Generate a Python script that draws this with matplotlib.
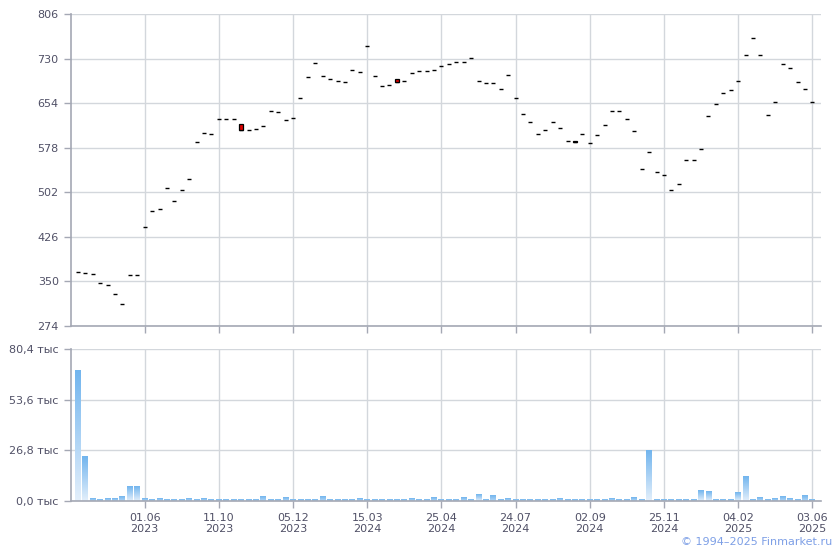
import numpy as np
import matplotlib.pyplot as plt
from matplotlib.colors import LinearSegmentedColormap

# цены закрытия (100 недель)
closes = [365.5, 363.8, 362.1, 346.8, 343.3, 328.0, 311.0, 360.4, 360.4, 442.2,
          469.5, 473.0, 508.7, 486.6, 505.4, 524.1, 587.2, 602.5, 600.8, 627.0,
          627.0, 627.0, 609.0, 607.7, 609.3, 614.5, 640.1, 638.4, 624.7, 628.1,
          662.2, 698.0, 721.9, 699.7, 694.6, 691.2, 689.5, 710.0, 706.5, 750.9,
          699.7, 682.7, 684.4, 689.3, 691.2, 704.8, 708.2, 708.2, 710.0, 716.8,
          720.2, 723.6, 723.6, 730.4, 691.2, 687.8, 687.8, 677.6, 701.4, 662.2,
          634.9, 621.3, 600.8, 607.7, 621.3, 611.1, 588.9, 587.5, 600.8, 585.5,
          599.1, 616.2, 640.1, 640.1, 626.4, 606.0, 541.1, 570.2, 536.0, 530.9,
          505.4, 515.6, 556.5, 556.5, 575.2, 631.5, 652.0, 670.7, 675.9, 691.2,
          735.5, 764.5, 735.5, 633.2, 655.4, 720.2, 713.4, 689.5, 677.6, 655.4]
# цены открытия там, где видно тело свечи
opens = {22: 618.0, 43: 695.5, 67: 588.7}

# объём, тыс.
volumes = [68.9, 23.5, 1.2, 0.9, 1.2, 1.2, 2.3, 7.6, 7.6, 1.2,
           0.9, 1.2, 0.9, 0.9, 0.9, 1.2, 0.9, 1.2, 0.9, 0.9,
           0.9, 0.9, 0.9, 0.9, 0.9, 2.3, 0.9, 0.9, 1.6, 0.9,
           0.9, 0.9, 0.9, 2.3, 0.9, 0.9, 0.9, 0.9, 1.2, 0.9,
           0.9, 0.9, 0.9, 0.9, 0.9, 1.2, 0.9, 0.9, 1.6, 0.9,
           0.9, 0.9, 1.6, 0.9, 3.3, 0.9, 2.8, 0.9, 1.2, 0.9,
           0.9, 0.9, 0.9, 0.9, 0.9, 1.2, 0.9, 0.9, 0.9, 0.9,
           0.9, 0.9, 1.2, 0.9, 0.9, 1.6, 0.9, 26.6, 0.9, 0.9,
           0.9, 0.9, 0.9, 0.9, 5.5, 4.9, 0.9, 0.9, 0.9, 4.4,
           12.9, 0.9, 1.6, 0.9, 1.2, 2.3, 1.2, 0.9, 2.8, 0.9]

tick_idx = [9, 19, 29, 39, 49, 59, 69, 79, 89, 99]
tick_labels = ['01.06\n2023', '11.10\n2023', '05.12\n2023', '15.03\n2024', '25.04\n2024',
               '24.07\n2024', '02.09\n2024', '25.11\n2024', '04.02\n2025', '03.06\n2025']
price_ticks = [274, 350, 426, 502, 578, 654, 730, 806]
vol_ticks = [0.0, 26.8, 53.6, 80.4]

grid_c = '#d3d7dc'
axis_c = '#a4a8b4'
text_c = '#505066'

fig = plt.figure(figsize=(8.4, 5.5), dpi=100)
ax1 = fig.add_axes([70.5 / 840, 224 / 550, 750 / 840, 312 / 550])
ax2 = fig.add_axes([70.5 / 840, 49 / 550, 750 / 840, 152 / 550])

for ax in (ax1, ax2):
    ax.set_xlim(-1.0, 100.1)
    ax.set_xticks(tick_idx)
    ax.grid(True, color=grid_c, lw=1)
    ax.set_axisbelow(True)
    for s in ('top', 'right'):
        ax.spines[s].set_visible(False)
    for s in ('left', 'bottom'):
        ax.spines[s].set_color(axis_c)
        ax.spines[s].set_linewidth(1.2)
    ax.tick_params(colors=axis_c, length=5, width=1, labelcolor=text_c, labelsize=8)

# свечи
x = np.arange(len(closes))
ax1.hlines(closes, x - 0.27, x + 0.27, color='black', lw=1.0, zorder=3)
for i, o in opens.items():
    c = closes[i]
    ax1.bar(i, abs(o - c), bottom=min(o, c), width=0.5,
            color='#dd0000' if o > c else 'white', edgecolor='black', lw=0.9, zorder=4)
ax1.set_ylim(274, 806)
ax1.set_yticks(price_ticks)
ax1.set_yticklabels([str(t) for t in price_ticks])
ax1.set_xticklabels([])

# объём с градиентом
cmap = LinearSegmentedColormap.from_list('vol', ['#e3effb', '#72b5ee'])
grad = np.linspace(0, 1, 64).reshape(-1, 1)
for i, v in enumerate(volumes):
    lo = 0.0 if v > 3 else 0.45
    ax2.imshow(grad[int(lo * 63):], extent=[i - 0.4, i + 0.4, 0, v], origin='lower',
               cmap=cmap, vmin=0, vmax=1, aspect='auto', zorder=2,
               interpolation='bilinear')
ax2.set_ylim(0, 80.4)
ax2.set_xlim(-1.0, 100.1)
ax2.set_yticks(vol_ticks)
ax2.set_yticklabels([f'{t:.1f} тыс'.replace('.', ',') for t in vol_ticks])
ax2.set_xticklabels(tick_labels, linespacing=1.15)

fig.text(832 / 840, 1 - 542 / 550, '© 1994–2025 Finmarket.ru', color='#7d9fe6',
         fontsize=8, ha='right', va='center')

fig.savefig('out.png', dpi=100)
